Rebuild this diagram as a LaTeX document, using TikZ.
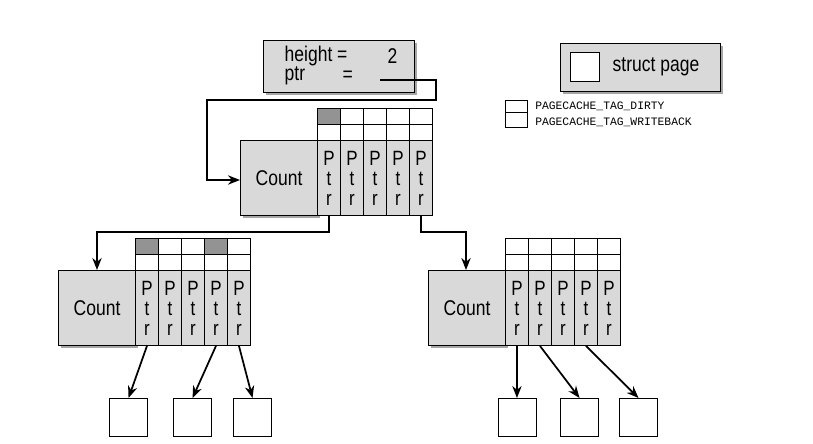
\documentclass[tikz,border=0pt]{standalone}
\usepackage{fontspec}
\setmainfont{Liberation Sans}[FakeStretch=0.82]
\newfontfamily\mono{Liberation Mono}
\usetikzlibrary{shadows,arrows.meta}
\begin{document}
\begin{tikzpicture}[x=0.75pt,y=-0.75pt,
  box/.style={draw,line width=0.8pt,fill=gray!30,inner sep=0pt,anchor=north west,
    drop shadow={shadow xshift=2.2pt,shadow yshift=-2.2pt,fill=gray!70,opacity=1}},
  cell/.style={draw,line width=0.7pt,fill=gray!30,inner sep=0pt,anchor=north west,minimum width=17.25pt,minimum height=56.25pt,font=\fontsize{15.5}{16}\selectfont,align=center},
  tag/.style={draw,line width=0.7pt,fill=white,inner sep=0pt,anchor=north west,minimum width=17.25pt,minimum height=12pt},
  dtag/.style={tag,fill=gray!85},
  page/.style={draw,line width=0.8pt,fill=white,inner sep=0pt,anchor=north west,minimum size=28.5pt},
  con/.style={line width=1.3pt,-{Stealth[length=9pt,width=7pt]}},
  lbl/.style={font=\fontsize{16}{17}\selectfont}]
\useasboundingbox (0,0) rectangle (813,443);
% root
\node[box,minimum width=113pt,minimum height=39pt] (root) at (263,40) {};
\node[lbl,anchor=west] (h) at (280,56) {height =};
\node[lbl,anchor=west] (hv) at (383,56) {2};
\node[lbl,anchor=west] (p) at (280,76) {ptr};
\node[lbl,anchor=west] (pe) at (338,76) {=};
\coordinate (ps) at (380,80);
% generic node macro
\newcommand\bnode[4]{% name, x, y, dark tags list
  \node[box,minimum width=57.75pt,minimum height=56.25pt] (#1c) at (#2,#3) {};
  \node[lbl] (#1l) at (#1c.center) {Count};
  \foreach \i in {1,...,5}{
    \node[cell] (#1p\i) at ({#2+77+(\i-1)*23},#3) {P\\[-1pt]t\\[-1pt]r};
    \node[tag] (#1t\i) at ({#2+77+(\i-1)*23},{#3-16}) {};
    \node[tag] (#1u\i) at ({#2+77+(\i-1)*23},{#3-32}) {};
  }
  \foreach \i in {#4}{\node[dtag] at ({#2+77+(\i-1)*23},{#3-32}) {};}
}
\bnode{T}{240}{140}{1}
\bnode{L}{58}{270}{1,4}
\bnode{R}{428}{270}{40}
% pages
\node[page] (pg1) at (109,398) {};
\node[page] (pg2) at (173,398) {};
\node[page] (pg3) at (233,398) {};
\node[page] (pg4) at (498,398) {};
\node[page] (pg5) at (560,398) {};
\node[page] (pg6) at (619,398) {};
% legend
\node[box,minimum width=120pt,minimum height=36pt] (leg) at (560,43) {};
\node[page,minimum size=22pt] (legp) at (570,52) {};
\node[lbl,anchor=west] (legt) at (608,67) {struct page};
\node[tag,minimum width=16.5pt,minimum height=9pt] (lt1) at (505,100) {};
\node[tag,minimum width=16.5pt,minimum height=11pt] (lt2) at (505,112) {};
\node[anchor=west,font=\mono\fontsize{8.5}{9}\selectfont,inner sep=0pt] (l1) at (535,106) {PAGECACHE\_TAG\_DIRTY};
\node[anchor=west,font=\mono\fontsize{8.5}{9}\selectfont,inner sep=0pt] (l2) at (535,122) {PAGECACHE\_TAG\_WRITEBACK};
% connectors
\draw[con] (ps) -- (436,80) -- (436,100) -- (207,100) -- (207,180) -- (Tc.west |- 0,180);
\draw[con] (Tp1.south) -- (Tp1.south |- 0,232) -- (97,232) -- (97,270);
\draw[con] (Tp5.south) -- (Tp5.south |- 0,232) -- (466,232) -- (466,270);
\draw[con] (Lp1.south) -- (pg1.north);
\draw[con] (Lp4.south) -- (pg2.north);
\draw[con] (Lp5.south) -- (pg3.north);
\draw[con] (Rp1.south) -- (Rp1.south |- pg4.north);
\draw[con] (Rp2.south) -- (pg5.north);
\draw[con] (Rp4.south) -- (pg6.north);
\end{tikzpicture}
\end{document}
